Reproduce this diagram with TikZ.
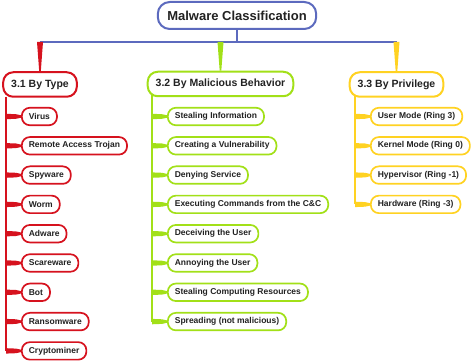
\documentclass[tikz,border=0pt]{standalone}
\usepackage{fontspec}
\setmainfont{Liberation Sans}
\usetikzlibrary{calc,backgrounds}

\definecolor{rootblue}{RGB}{92,106,190}
\definecolor{typered}{RGB}{214,18,30}
\definecolor{behavgreen}{RGB}{162,224,24}
\definecolor{privyellow}{RGB}{255,210,34}
\definecolor{inkgray}{RGB}{34,34,34}

\tikzset{
  rootbox/.style={draw=rootblue, line width=2pt, fill=white, rounded corners=12pt,
    minimum height=27pt, inner xsep=9.5pt, text=inkgray,
    font=\fontsize{13}{15}\selectfont\bfseries},
  groupbox/.style={draw=#1, line width=2pt, fill=white, rounded corners=10pt,
    minimum height=24.5pt, inner xsep=8pt, text=inkgray,
    font=\fontsize{10.5}{12}\selectfont\bfseries},
  leafbox/.style={draw=#1, line width=1.7pt, fill=white, rounded corners=8pt,
    minimum height=17.5pt, inner xsep=7pt, anchor=west, text=inkgray,
    font=\fontsize{8.5}{10}\selectfont\bfseries},
}

\begin{document}
\begin{tikzpicture}[x=1pt, y=-1pt]
    \useasboundingbox (0,0) rectangle (474,363);

    % root
    \node[rootbox](root)at(237,15.5){Malware Classification};

    % groups
    \node[groupbox=typered](type)at(40,84.5){3.1 By Type};
    \node[groupbox=behavgreen](behav)at(220.5,84){3.2 By Malicious Behavior};
    \node[groupbox=privyellow](priv)at(396.5,84.5){3.3 By Privilege};

    % 3.1
    \coordinate(ttop)at(6,97);
    \node[leafbox=typered](t1)at(21,116.5){Virus};
    \node[leafbox=typered](t2)at(21,145.8){Remote Access Trojan};
    \node[leafbox=typered](t3)at(21,175.1){Spyware};
    \node[leafbox=typered](t4)at(21,204.4){Worm};
    \node[leafbox=typered](t5)at(21,233.7){Adware};
    \node[leafbox=typered](t6)at(21,263){Scareware};
    \node[leafbox=typered](t7)at(21,292.3){Bot};
    \node[leafbox=typered](t8)at(21,321.6){Ransomware};
    \node[leafbox=typered](t9)at(21,350.9){Cryptominer};

    % 3.2
    \coordinate(mtop)at(152,95);
    \node[leafbox=behavgreen](m1)at(167,116.5){Stealing Information};
    \node[leafbox=behavgreen](m2)at(167,145.8){Creating a Vulnerability};
    \node[leafbox=behavgreen](m3)at(167,175.1){Denying Service};
    \node[leafbox=behavgreen](m4)at(167,204.4){Executing Commands from the C\&C};
    \node[leafbox=behavgreen](m5)at(167,233.7){Deceiving the User};
    \node[leafbox=behavgreen](m6)at(167,263){Annoying the User};
    \node[leafbox=behavgreen](m7)at(167,292.3){Stealing Computing Resources};
    \node[leafbox=behavgreen](m8)at(167,321.6){Spreading (not malicious)};

    % 3.3
    \coordinate(ptop)at(355,95);
    \node[leafbox=privyellow](p1)at(370,116.5){User Mode (Ring 3)};
    \node[leafbox=privyellow](p2)at(370,145.8){Kernel Mode (Ring 0)};
    \node[leafbox=privyellow](p3)at(370,175.1){Hypervisor (Ring -1)};
    \node[leafbox=privyellow](p4)at(370,204.4){Hardware (Ring -3)};

    \begin{scope}[on background layer]
        % hub
        \coordinate(hub)at(237,42);
        \path[draw=rootblue, line width=1.6pt](root.south)--(hub);
        \path[draw=rootblue, line width=1.6pt](type.north |- hub)--(priv.north |- hub);

        % drops
        \path[fill=typered]($(type.north |- hub)+(-3,0)$)--($(type.north |- hub)+(3,0)$)
            --($(type.north)+(0.8,0)$)--($(type.north)+(-0.8,0)$)--cycle;
        \path[fill=behavgreen]($(behav.north |- hub)+(-3,0)$)--($(behav.north |- hub)+(3,0)$)
            --($(behav.north)+(0.8,0)$)--($(behav.north)+(-0.8,0)$)--cycle;
        \path[fill=privyellow]($(priv.north |- hub)+(-3,0)$)--($(priv.north |- hub)+(3,0)$)
            --($(priv.north)+(0.8,0)$)--($(priv.north)+(-0.8,0)$)--cycle;

        % trunks
        \path[draw=typered, line width=1.6pt](ttop)--(ttop |- t9.west);
        \path[draw=behavgreen, line width=1.6pt](mtop)--(mtop |- m8.west);
        \path[draw=privyellow, line width=1.6pt](ptop)--(ptop |- p4.west);

        % branches
        \foreach \i in {1,...,9}
            \path[fill=typered]($(ttop |- t\i.west)+(0,-2.7)$)--($(ttop |- t\i.west)+(10,-2.3)$)
                --($(t\i.west)+(1,-1)$)--($(t\i.west)+(1,1)$)
                --($(ttop |- t\i.west)+(10,2.3)$)--($(ttop |- t\i.west)+(0,2.7)$)--cycle;
        \foreach \i in {1,...,8}
            \path[fill=behavgreen]($(mtop |- m\i.west)+(0,-2.7)$)--($(mtop |- m\i.west)+(10,-2.3)$)
                --($(m\i.west)+(1,-1)$)--($(m\i.west)+(1,1)$)
                --($(mtop |- m\i.west)+(10,2.3)$)--($(mtop |- m\i.west)+(0,2.7)$)--cycle;
        \foreach \i in {1,...,4}
            \path[fill=privyellow]($(ptop |- p\i.west)+(0,-2.7)$)--($(ptop |- p\i.west)+(10,-2.3)$)
                --($(p\i.west)+(1,-1)$)--($(p\i.west)+(1,1)$)
                --($(ptop |- p\i.west)+(10,2.3)$)--($(ptop |- p\i.west)+(0,2.7)$)--cycle;
    \end{scope}
\end{tikzpicture}
\end{document}
